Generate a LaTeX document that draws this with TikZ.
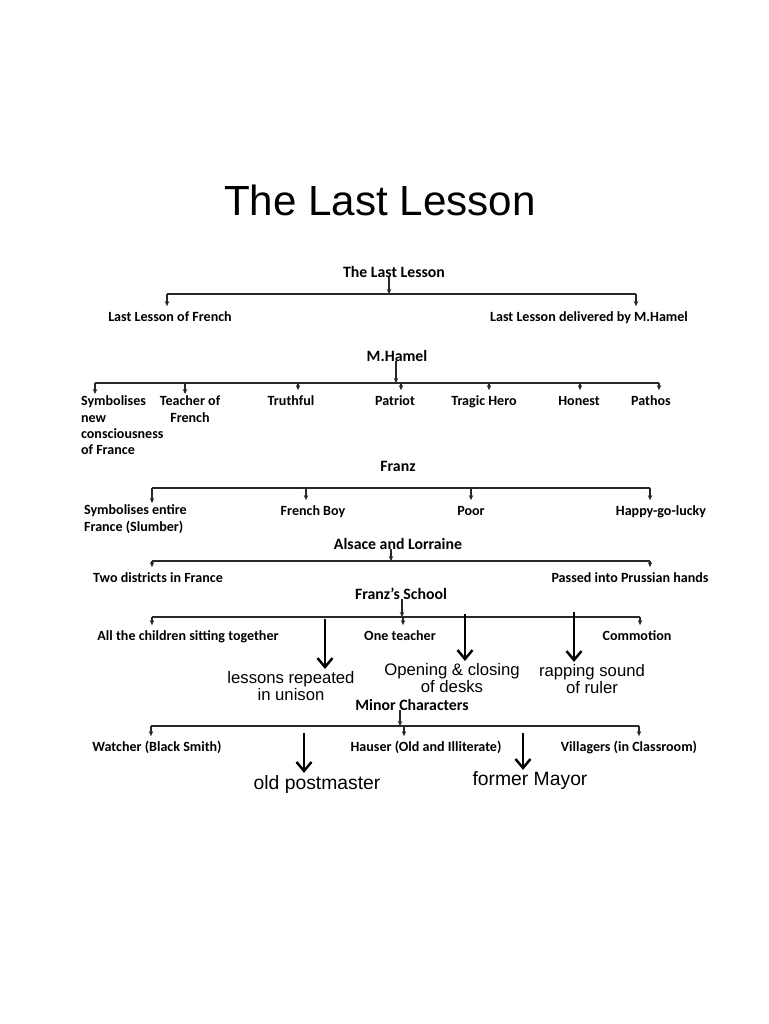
\documentclass[tikz,border=0pt]{standalone}
\usepackage{fontspec}
\setmainfont{Carlito}
\newfontfamily\handfont{Liberation Sans}
\usetikzlibrary{arrows.meta, positioning}
\definecolor{linegray}{RGB}{40, 40, 40}

\begin{document}
\begin{tikzpicture}[x=0.02cm, y=-0.02cm,
    title/.style={font=\handfont\fontsize{24}{28}\selectfont, inner sep=0pt},
    head/.style={font=\bfseries\fontsize{9}{11}\selectfont, inner sep=1pt, text height=0.75em, text depth=0.25em},
    multileaf/.style={font=\bfseries\fontsize{8}{9.2}\selectfont, inner sep=1pt},
    leaf/.style={multileaf, text height=0.75em, text depth=0.25em},
    note/.style={font=\handfont\fontsize{9.5}{10}\selectfont, inner sep=1pt, align=center},
    bignote/.style={font=\handfont\fontsize{11}{13}\selectfont, inner sep=1pt},
    bar/.style={line width=0.6pt, linegray},
    arrow/.style={-{Stealth[length=1mm, width=0.9mm]}, line width=0.6pt, linegray},
    hand/.style={-{Straight Barb[length=1.8mm, width=3mm]}, line width=1.4pt, black}
]
\useasboundingbox[fill=white] (0,0) rectangle (768,1024);

% Title
\node[title, anchor=base] (title) at (380,215) {The Last Lesson};

% The Last Lesson
\node[head] (root) at (394,273) {The Last Lesson};
\node[leaf] (lolfrench) at (170,317) {Last Lesson of French};
\node[leaf] (lolhamel) at (589,317) {Last Lesson delivered by M.Hamel};
\coordinate (rootbar) at (389,294);
\coordinate (rootL) at (167,294);
\coordinate (rootR) at (636,294);
\draw[bar] (rootL) -- (rootR);
\draw[arrow] (root.base -| rootbar) -- (rootbar);
\draw[arrow] (rootL) -- (rootL |- lolfrench.north);
\draw[arrow] (rootR) -- (rootR |- lolhamel.north);

% M.Hamel
\node[head] (hamel) at (397,357) {M.Hamel};
\node[multileaf, anchor=north west, align=left] (symb) at (79,394) {Symbolises\\new\\consciousness\\of France};
\node[multileaf, anchor=north, align=center] (teacher) at (190,394) {Teacher of\\French};
\node[leaf] (truthful) at (291,401) {Truthful};
\node[leaf] (patriot) at (395,401) {Patriot};
\node[leaf] (tragic) at (484,401) {Tragic Hero};
\node[leaf] (honest) at (579,401) {Honest};
\node[leaf] (pathos) at (651,401) {Pathos};
\coordinate (hamelbar) at (396,383);
\coordinate (hamel1) at (95,383);
\coordinate (hamel2) at (185,383);
\coordinate (hamel3) at (298,383);
\coordinate (hamel4) at (401,383);
\coordinate (hamel5) at (489,383);
\coordinate (hamel6) at (580,383);
\coordinate (hamel7) at (659,383);
\draw[bar] (hamel1) -- (hamel7);
\draw[arrow] (hamel.base -| hamelbar) -- (hamelbar);
\draw[arrow] (hamel1) -- (hamel1 |- symb.north);
\draw[arrow] (hamel2) -- (hamel2 |- teacher.north);
\draw[arrow] (hamel3) -- (hamel3 |- truthful.north);
\draw[arrow] (hamel4) -- (hamel4 |- patriot.north);
\draw[arrow] (hamel5) -- (hamel5 |- tragic.north);
\draw[arrow] (hamel6) -- (hamel6 |- honest.north);
\draw[arrow] (hamel7) -- (hamel7 |- pathos.north);

% Franz
\node[head] (franz) at (398,467) {Franz};
\node[multileaf, anchor=north west, align=left] (symbent) at (82,503) {Symbolises entire\\France (Slumber)};
\node[leaf] (frenchboy) at (313,511) {French Boy};
\node[leaf] (poor) at (471,511) {Poor};
\node[leaf] (happy) at (661,511) {Happy-go-lucky};
\coordinate (franz1) at (152,488);
\coordinate (franz2) at (306,488);
\coordinate (franz3) at (471,488);
\coordinate (franz4) at (650,488);
\draw[bar] (franz1) -- (franz4);
\draw[arrow] (franz1) -- (franz1 |- symbent.north);
\draw[arrow] (franz2) -- (franz2 |- frenchboy.north);
\draw[arrow] (franz3) -- (franz3 |- poor.north);
\draw[arrow] (franz4) -- (franz4 |- happy.north);

% Alsace and Lorraine
\node[head] (alsace) at (398,545) {Alsace and Lorraine};
\node[leaf] (twodist) at (158,578) {Two districts in France};
\node[leaf] (prussian) at (630,578) {Passed into Prussian hands};
\coordinate (alsacebar) at (391,561);
\coordinate (alsaceL) at (152,561);
\coordinate (alsaceR) at (650,561);
\draw[bar] (alsaceL) -- (alsaceR);
\draw[arrow] (alsace.base -| alsacebar) -- (alsacebar);
\draw[arrow] (alsaceL) -- (alsaceL |- twodist.north);
\draw[arrow] (alsaceR) -- (alsaceR |- prussian.north);

% Franz's School
\node[head] (school) at (401,595) {Franz’s School};
\node[leaf] (allchild) at (188,636) {All the children sitting together};
\node[leaf] (oneteacher) at (400,636) {One teacher};
\node[leaf] (commotion) at (637,636) {Commotion};
\node[note] (lessons) at (291,686) {lessons repeated\\in unison};
\node[note] (opening) at (452,678) {Opening \& closing\\of desks};
\node[note] (rapping) at (592,679) {rapping sound\\of ruler};
\coordinate (schoolbar) at (402,617);
\coordinate (school1) at (152,617);
\coordinate (school2) at (403,617);
\coordinate (school3) at (640,617);
\draw[bar] (school1) -- (school3);
\draw[arrow] (school.base -| schoolbar) -- (schoolbar);
\draw[arrow] (school1) -- (school1 |- allchild.north);
\draw[arrow] (school2) -- (school2 |- oneteacher.north);
\draw[arrow] (school3) -- (school3 |- commotion.north);
\coordinate (hand1) at (325,619);
\coordinate (hand2) at (465,614);
\coordinate (hand3) at (574,612);
\draw[hand] (hand1) -- (hand1 |- lessons.north);
\draw[hand] (hand2) -- (hand2 |- opening.north);
\draw[hand] (hand3) -- (hand3 |- rapping.north);

% Minor Characters
\node[head] (minor) at (412,706) {Minor Characters};
\node[leaf] (watcher) at (157,747) {Watcher (Black Smith)};
\node[leaf] (hauser) at (426,747) {Hauser (Old and Illiterate)};
\node[leaf] (villagers) at (629,747) {Villagers (in Classroom)};
\node[bignote] (postmaster) at (317,784) {old postmaster};
\node[bignote] (mayor) at (530,781) {former Mayor};
\coordinate (minorbar) at (400,726);
\coordinate (minor1) at (151,726);
\coordinate (minor2) at (404,726);
\coordinate (minor3) at (639,726);
\draw[bar] (minor1) -- (minor3);
\draw[arrow] (minor.base -| minorbar) -- (minorbar);
\draw[arrow] (minor1) -- (minor1 |- watcher.north);
\draw[arrow] (minor2) -- (minor2 |- hauser.north);
\draw[arrow] (minor3) -- (minor3 |- villagers.north);
\coordinate (hand4) at (304,733);
\coordinate (hand5) at (523,733);
\draw[hand] (hand4) -- (hand4 |- postmaster.north);
\draw[hand] (hand5) -- (hand5 |- mayor.north);

\end{tikzpicture}
\end{document}
